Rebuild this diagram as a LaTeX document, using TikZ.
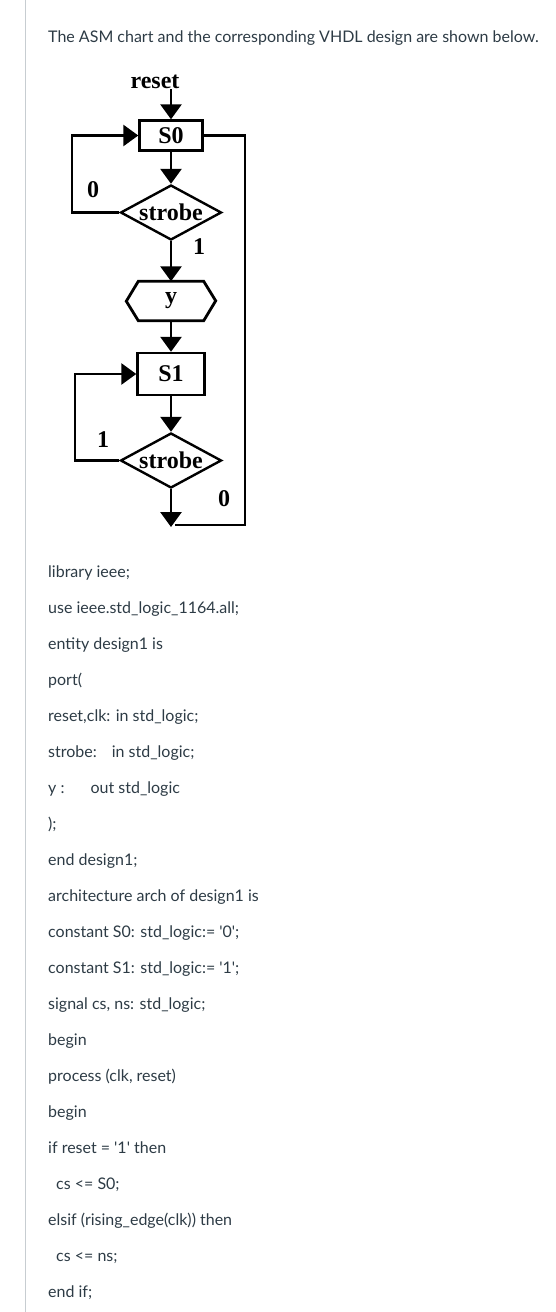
\documentclass[tikz,border=0pt]{standalone}
\usepackage{fontspec}
\setmainfont{Lato}
\newfontfamily\asmfont{Liberation Serif}
\usetikzlibrary{arrows.meta,positioning,shapes.geometric}
\definecolor{CanvasText}{HTML}{2D3B45}
\definecolor{RuleGray}{HTML}{C7CDD1}

\tikzset{
  asm/.style={font=\asmfont\bfseries\fontsize{24}{24}\selectfont, inner sep=0pt},
  statebox/.style={asm, draw, line width=2.4pt, minimum width=63pt, minimum height=30pt},
  decision/.style={asm, diamond, draw, line width=2.4pt, minimum width=101pt, minimum height=55pt},
  flow/.style={line width=2.8pt, -{Triangle[length=15pt,width=21pt]}},
  wire/.style={line width=2.8pt},
  code/.style={anchor=west, inner sep=0pt, text=CanvasText, text height=12pt, text depth=4pt,
    font=\fontsize{16}{19}\selectfont},
}

\begin{document}
\begin{tikzpicture}[x=1pt,y=-1pt,>=Latex]
  \useasboundingbox (0,0) rectangle (556,1312);
  \draw[RuleGray,line width=1.5pt] (25.5,0) -- (25.5,1312);
  \node[code] (intro) at (48,38) {The ASM chart and the corresponding VHDL design are shown below.};

  % ASM chart
  \node[asm] (rst) at (155,82) {reset};
  \node[statebox] (s0) at (171,135.5) {S0};
  \node[decision] (d0) at (171,212.5) {\makebox[0pt]{strobe}};
  \node[asm, minimum width=65pt, minimum height=39pt] (yout) at (171,301) {y};
  \node[statebox, minimum width=67pt, minimum height=42pt] (s1) at (171,374) {S1};
  \node[decision] (d1) at (171,460.5) {\makebox[0pt]{strobe}};
  \coordinate (l0) at (72,0);
  \coordinate (l1) at (75,0);
  \coordinate (bot) at (171,527);
  \coordinate (b0) at (175,525);
  \coordinate (r0) at (245,525);

  \draw[wire] (yout.north west) -- (yout.north east) -- ++(12,19.5) -- (yout.south east)
    -- (yout.south west) -- ++(-12,-19.5) -- cycle;
  \draw[flow] (rst.south -| s0.north) -- (s0.north);
  \draw[flow] (s0) -- (d0);
  \draw[flow] (d0) -- (yout);
  \draw[flow] (yout) -- (s1);
  \draw[flow] (s1) -- (d1);
  \draw[flow] (d0.west) -- (d0.west -| l0) |- (s0.west);
  \draw[flow] (d1.west) -- (d1.west -| l1) |- (s1.west);
  \draw[flow] (d1) -- (bot);
  \draw[wire] (b0) -- (r0) |- (s0.east);

  \node[asm] (z0) at (93,190) {0};
  \node[asm] (o0) at (199,247) {1};
  \node[asm] (o1) at (103,440) {1};
  \node[asm] (z1) at (224,499) {0};

  % VHDL listing
  \foreach \txt [count=\i] in {
      {library ieee;},
      {use ieee.std\_logic\_1164.all;},
      {entity design1 is},
      {port(},
      {reset,clk: in std\_logic;},
      {strobe:\hspace*{15pt}in std\_logic;},
      {y :\hspace*{26pt}out std\_logic},
      {);},
      {end design1;},
      {architecture arch of design1 is},
      {constant S0: std\_logic:= \textquotesingle 0\textquotesingle;},
      {constant S1: std\_logic:= \textquotesingle 1\textquotesingle;},
      {signal cs, ns: std\_logic;},
      {begin},
      {process (clk, reset)},
      {begin},
      {if reset = \textquotesingle 1\textquotesingle{} then},
      {\hspace*{8pt}cs <= S0;},
      {elsif (rising\_edge(clk)) then},
      {\hspace*{8pt}cs <= ns;},
      {end if;}}
    \node[code] (c\i) at (48,{537+36*\i}) {\txt};
\end{tikzpicture}
\end{document}
